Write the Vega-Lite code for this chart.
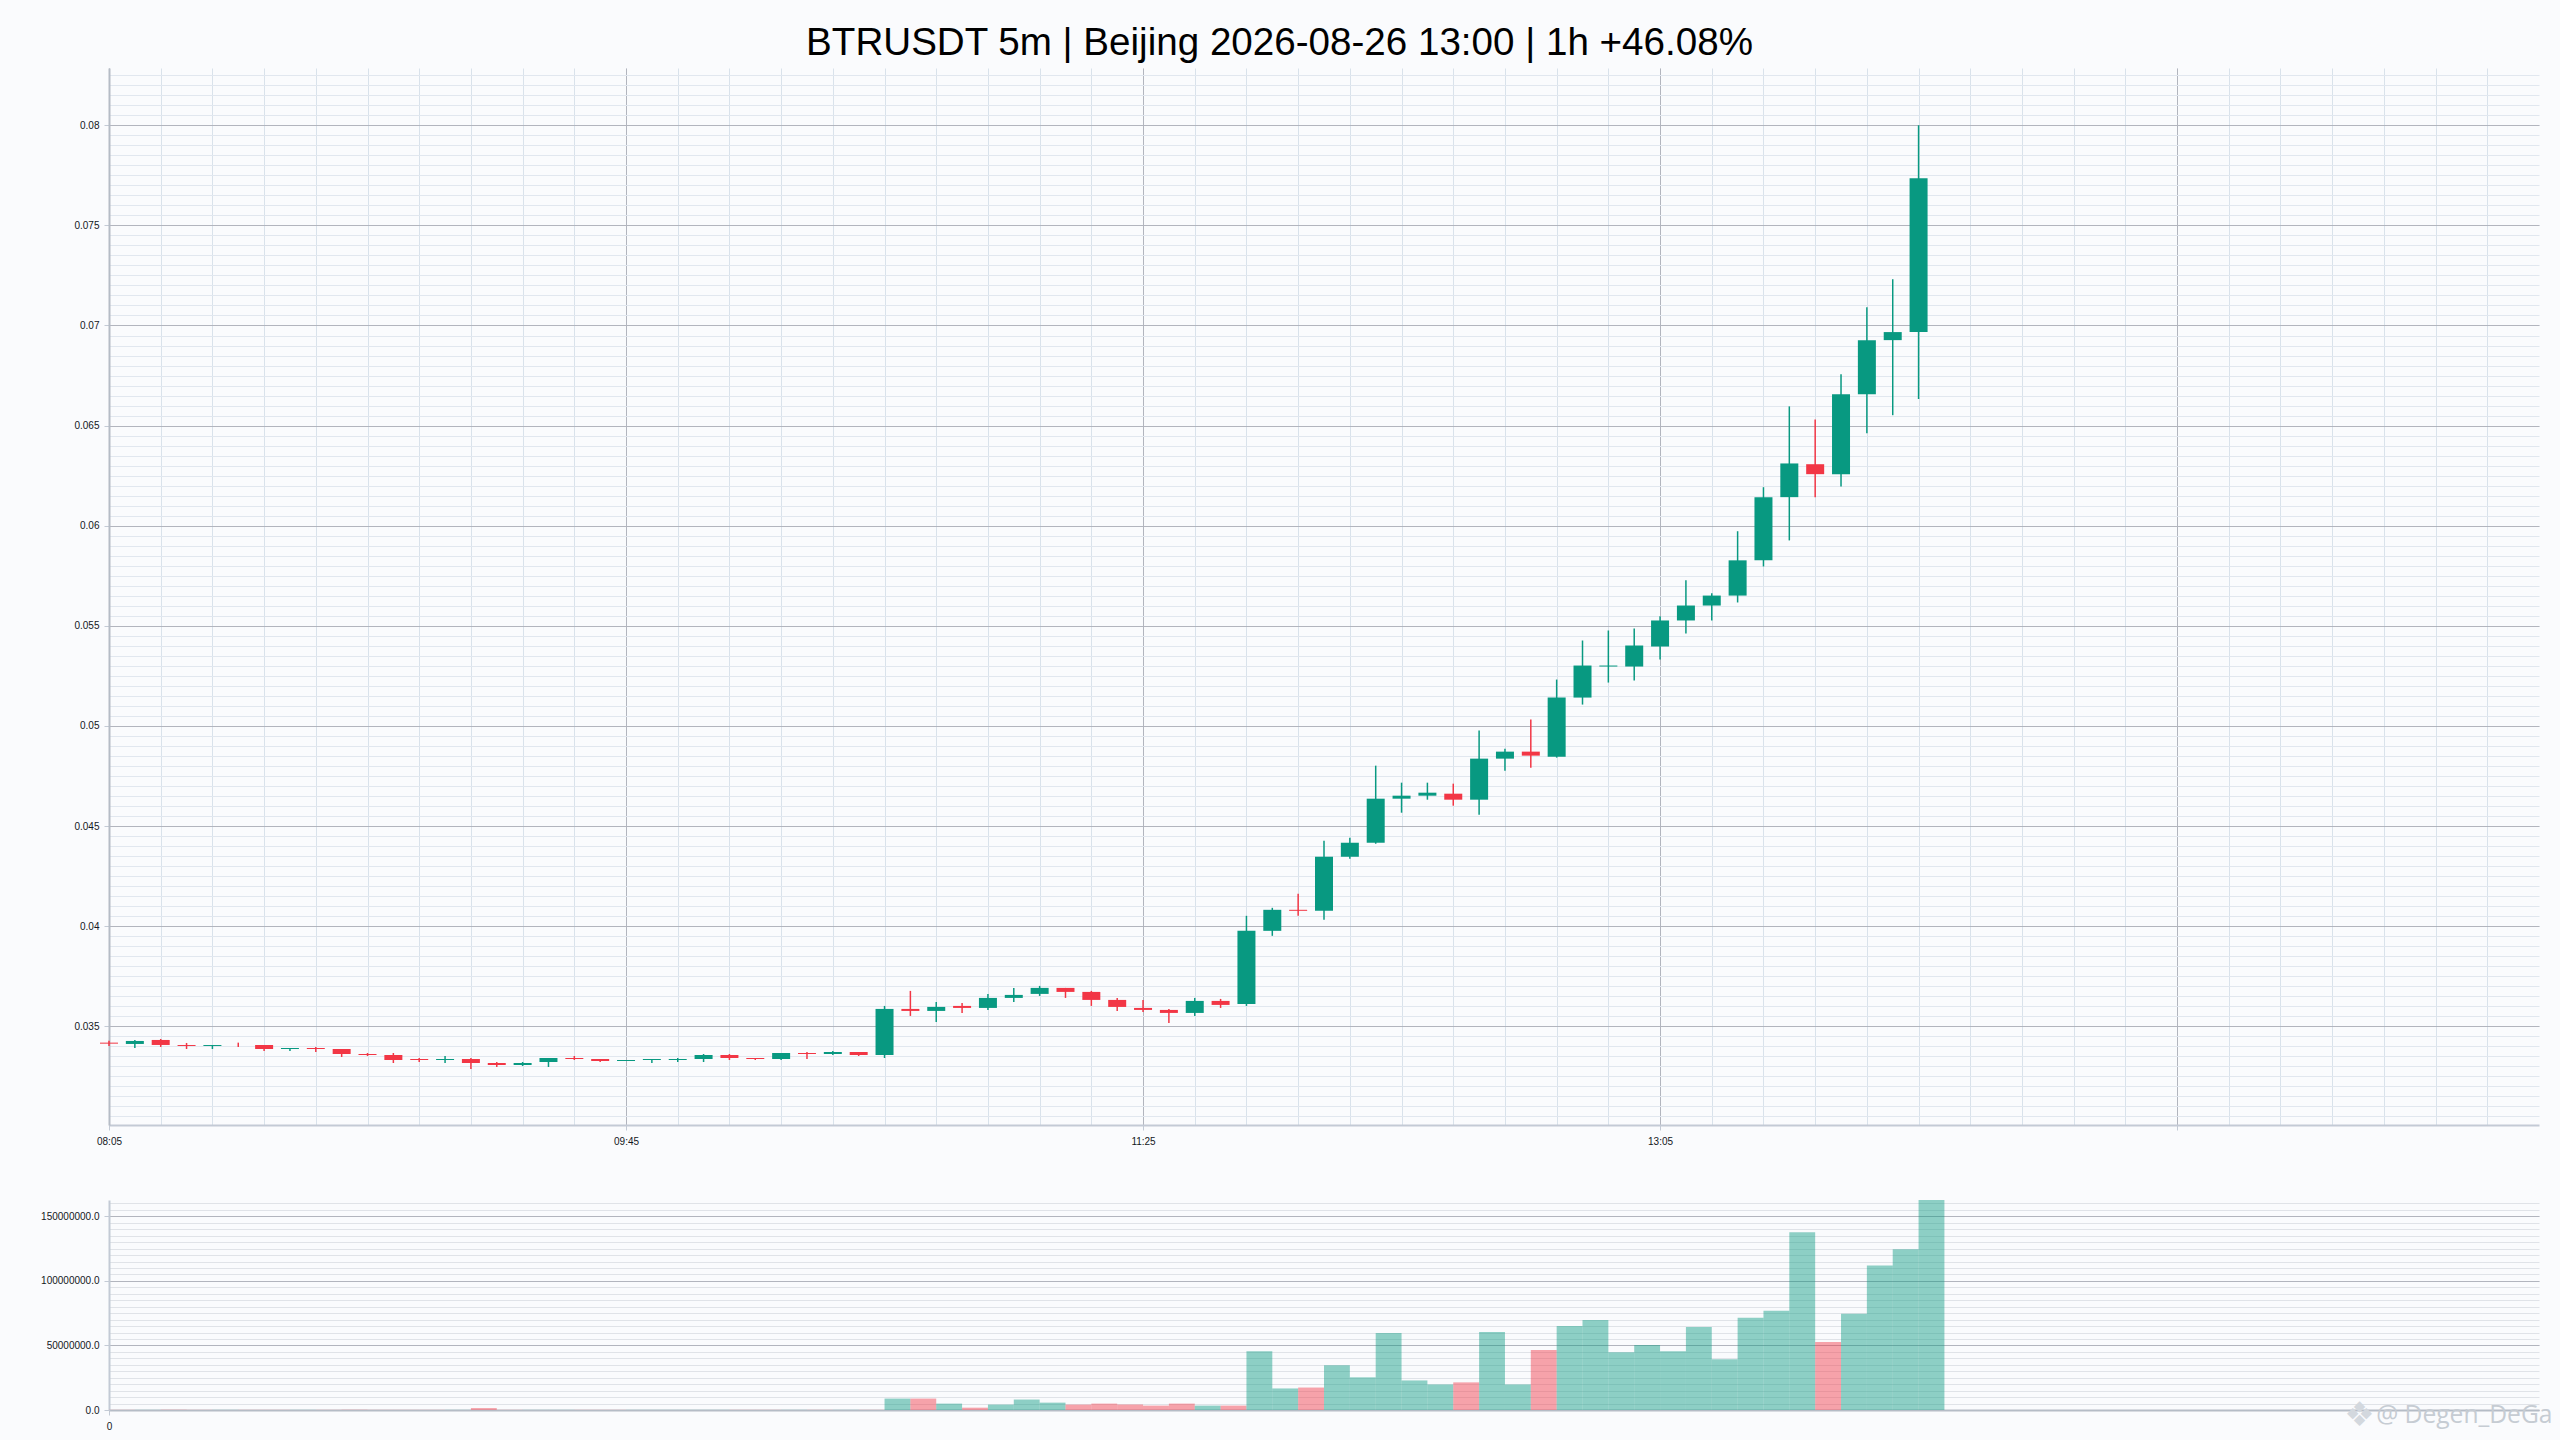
{
  "$schema": "https://vega.github.io/schema/vega-lite/v6.json",
  "background": "#FAFBFD",
  "padding": {"left": 40, "top": 24, "right": 8, "bottom": 8},
  "title": {"text": "BTRUSDT 5m | Beijing 2026-08-26 13:00 | 1h +46.08%", "font": "Liberation Sans", "fontSize": 38.6, "fontWeight": "normal", "color": "#000000", "anchor": "middle", "dx": -17, "offset": 4},
  "config": {"view": {"stroke": null}, "axis": {"labelFont": "Liberation Sans", "labelFontSize": 10, "labelColor": "#131722", "title": null}},
  "datasets": {
    "candles": [
      {"time":"2026-08-26T08:05:00Z","end":"2026-08-26T08:10:00Z","open":0.034183,"high":0.034283,"low":0.034017,"close":0.034133,"volume":100000},
      {"time":"2026-08-26T08:10:00Z","end":"2026-08-26T08:15:00Z","open":0.034117,"high":0.034317,"low":0.033917,"close":0.034267,"volume":100000},
      {"time":"2026-08-26T08:15:00Z","end":"2026-08-26T08:20:00Z","open":0.034317,"high":0.034367,"low":0.033967,"close":0.034067,"volume":100000},
      {"time":"2026-08-26T08:20:00Z","end":"2026-08-26T08:25:00Z","open":0.034067,"high":0.034167,"low":0.033867,"close":0.034017,"volume":100000},
      {"time":"2026-08-26T08:25:00Z","end":"2026-08-26T08:30:00Z","open":0.034017,"high":0.034067,"low":0.033867,"close":0.034067,"volume":100000},
      {"time":"2026-08-26T08:30:00Z","end":"2026-08-26T08:35:00Z","open":0.034034,"high":0.034183,"low":0.033967,"close":0.034033,"volume":100000},
      {"time":"2026-08-26T08:35:00Z","end":"2026-08-26T08:40:00Z","open":0.034067,"high":0.034067,"low":0.033767,"close":0.033867,"volume":100000},
      {"time":"2026-08-26T08:40:00Z","end":"2026-08-26T08:45:00Z","open":0.033867,"high":0.033917,"low":0.033767,"close":0.033917,"volume":100000},
      {"time":"2026-08-26T08:45:00Z","end":"2026-08-26T08:50:00Z","open":0.033917,"high":0.033967,"low":0.033717,"close":0.033867,"volume":100000},
      {"time":"2026-08-26T08:50:00Z","end":"2026-08-26T08:55:00Z","open":0.033867,"high":0.033867,"low":0.033467,"close":0.033617,"volume":100000},
      {"time":"2026-08-26T08:55:00Z","end":"2026-08-26T09:00:00Z","open":0.033617,"high":0.033667,"low":0.033517,"close":0.033567,"volume":100000},
      {"time":"2026-08-26T09:00:00Z","end":"2026-08-26T09:05:00Z","open":0.033567,"high":0.033667,"low":0.033167,"close":0.033317,"volume":100000},
      {"time":"2026-08-26T09:05:00Z","end":"2026-08-26T09:10:00Z","open":0.033367,"high":0.033417,"low":0.033217,"close":0.033317,"volume":100000},
      {"time":"2026-08-26T09:10:00Z","end":"2026-08-26T09:15:00Z","open":0.033317,"high":0.033517,"low":0.033167,"close":0.033367,"volume":100000},
      {"time":"2026-08-26T09:15:00Z","end":"2026-08-26T09:20:00Z","open":0.033367,"high":0.033417,"low":0.032867,"close":0.033167,"volume":1500000},
      {"time":"2026-08-26T09:20:00Z","end":"2026-08-26T09:25:00Z","open":0.033167,"high":0.033217,"low":0.032967,"close":0.033067,"volume":100000},
      {"time":"2026-08-26T09:25:00Z","end":"2026-08-26T09:30:00Z","open":0.033067,"high":0.033217,"low":0.033017,"close":0.033167,"volume":100000},
      {"time":"2026-08-26T09:30:00Z","end":"2026-08-26T09:35:00Z","open":0.033217,"high":0.033417,"low":0.032967,"close":0.033417,"volume":100000},
      {"time":"2026-08-26T09:35:00Z","end":"2026-08-26T09:40:00Z","open":0.033417,"high":0.033517,"low":0.033317,"close":0.033367,"volume":100000},
      {"time":"2026-08-26T09:40:00Z","end":"2026-08-26T09:45:00Z","open":0.033367,"high":0.033367,"low":0.033217,"close":0.033267,"volume":100000},
      {"time":"2026-08-26T09:45:00Z","end":"2026-08-26T09:50:00Z","open":0.033267,"high":0.033317,"low":0.033267,"close":0.033317,"volume":100000},
      {"time":"2026-08-26T09:50:00Z","end":"2026-08-26T09:55:00Z","open":0.033317,"high":0.033367,"low":0.033167,"close":0.033367,"volume":100000},
      {"time":"2026-08-26T09:55:00Z","end":"2026-08-26T10:00:00Z","open":0.033317,"high":0.033417,"low":0.033217,"close":0.033367,"volume":100000},
      {"time":"2026-08-26T10:00:00Z","end":"2026-08-26T10:05:00Z","open":0.033367,"high":0.033617,"low":0.033217,"close":0.033567,"volume":100000},
      {"time":"2026-08-26T10:05:00Z","end":"2026-08-26T10:10:00Z","open":0.033567,"high":0.033617,"low":0.033317,"close":0.033417,"volume":100000},
      {"time":"2026-08-26T10:10:00Z","end":"2026-08-26T10:15:00Z","open":0.033417,"high":0.033417,"low":0.033317,"close":0.033367,"volume":100000},
      {"time":"2026-08-26T10:15:00Z","end":"2026-08-26T10:20:00Z","open":0.033367,"high":0.033667,"low":0.033317,"close":0.033667,"volume":100000},
      {"time":"2026-08-26T10:20:00Z","end":"2026-08-26T10:25:00Z","open":0.033667,"high":0.033717,"low":0.033367,"close":0.033617,"volume":100000},
      {"time":"2026-08-26T10:25:00Z","end":"2026-08-26T10:30:00Z","open":0.033617,"high":0.033767,"low":0.033567,"close":0.033717,"volume":100000},
      {"time":"2026-08-26T10:30:00Z","end":"2026-08-26T10:35:00Z","open":0.033717,"high":0.033717,"low":0.033517,"close":0.033567,"volume":100000},
      {"time":"2026-08-26T10:35:00Z","end":"2026-08-26T10:40:00Z","open":0.033567,"high":0.036017,"low":0.033417,"close":0.035867,"volume":8850000},
      {"time":"2026-08-26T10:40:00Z","end":"2026-08-26T10:45:00Z","open":0.035867,"high":0.036767,"low":0.035517,"close":0.035767,"volume":8850000},
      {"time":"2026-08-26T10:45:00Z","end":"2026-08-26T10:50:00Z","open":0.035767,"high":0.036217,"low":0.035217,"close":0.035967,"volume":4950000},
      {"time":"2026-08-26T10:50:00Z","end":"2026-08-26T10:55:00Z","open":0.036017,"high":0.036167,"low":0.035667,"close":0.035917,"volume":1800000},
      {"time":"2026-08-26T10:55:00Z","end":"2026-08-26T11:00:00Z","open":0.035917,"high":0.036617,"low":0.035817,"close":0.036417,"volume":4200000},
      {"time":"2026-08-26T11:00:00Z","end":"2026-08-26T11:05:00Z","open":0.036417,"high":0.036917,"low":0.036217,"close":0.036567,"volume":8100000},
      {"time":"2026-08-26T11:05:00Z","end":"2026-08-26T11:10:00Z","open":0.036617,"high":0.037017,"low":0.036517,"close":0.036917,"volume":5700000},
      {"time":"2026-08-26T11:10:00Z","end":"2026-08-26T11:15:00Z","open":0.036917,"high":0.036917,"low":0.036417,"close":0.036717,"volume":4200000},
      {"time":"2026-08-26T11:15:00Z","end":"2026-08-26T11:20:00Z","open":0.036717,"high":0.036767,"low":0.036017,"close":0.036317,"volume":4950000},
      {"time":"2026-08-26T11:20:00Z","end":"2026-08-26T11:25:00Z","open":0.036317,"high":0.036417,"low":0.035767,"close":0.035967,"volume":4200000},
      {"time":"2026-08-26T11:25:00Z","end":"2026-08-26T11:30:00Z","open":0.035917,"high":0.036317,"low":0.035717,"close":0.035817,"volume":3400000},
      {"time":"2026-08-26T11:30:00Z","end":"2026-08-26T11:35:00Z","open":0.035817,"high":0.035867,"low":0.035167,"close":0.035667,"volume":4950000},
      {"time":"2026-08-26T11:35:00Z","end":"2026-08-26T11:40:00Z","open":0.035667,"high":0.036417,"low":0.035517,"close":0.036267,"volume":3400000},
      {"time":"2026-08-26T11:40:00Z","end":"2026-08-26T11:45:00Z","open":0.036267,"high":0.036367,"low":0.035917,"close":0.036067,"volume":3400000},
      {"time":"2026-08-26T11:45:00Z","end":"2026-08-26T11:50:00Z","open":0.036117,"high":0.040517,"low":0.036017,"close":0.039767,"volume":45600000},
      {"time":"2026-08-26T11:50:00Z","end":"2026-08-26T11:55:00Z","open":0.039767,"high":0.040917,"low":0.039517,"close":0.040817,"volume":16700000},
      {"time":"2026-08-26T11:55:00Z","end":"2026-08-26T12:00:00Z","open":0.040817,"high":0.041617,"low":0.040517,"close":0.040767,"volume":17400000},
      {"time":"2026-08-26T12:00:00Z","end":"2026-08-26T12:05:00Z","open":0.040767,"high":0.044267,"low":0.040317,"close":0.043467,"volume":34600000},
      {"time":"2026-08-26T12:05:00Z","end":"2026-08-26T12:10:00Z","open":0.043467,"high":0.044417,"low":0.043367,"close":0.044167,"volume":25300000},
      {"time":"2026-08-26T12:10:00Z","end":"2026-08-26T12:15:00Z","open":0.044167,"high":0.048017,"low":0.044117,"close":0.046367,"volume":59600000},
      {"time":"2026-08-26T12:15:00Z","end":"2026-08-26T12:20:00Z","open":0.046367,"high":0.047167,"low":0.045667,"close":0.046517,"volume":22900000},
      {"time":"2026-08-26T12:20:00Z","end":"2026-08-26T12:25:00Z","open":0.046517,"high":0.047167,"low":0.046317,"close":0.046667,"volume":19800000},
      {"time":"2026-08-26T12:25:00Z","end":"2026-08-26T12:30:00Z","open":0.046617,"high":0.047117,"low":0.046017,"close":0.046317,"volume":21400000},
      {"time":"2026-08-26T12:30:00Z","end":"2026-08-26T12:35:00Z","open":0.046317,"high":0.049767,"low":0.045567,"close":0.048367,"volume":60400000},
      {"time":"2026-08-26T12:35:00Z","end":"2026-08-26T12:40:00Z","open":0.048367,"high":0.048867,"low":0.047767,"close":0.048717,"volume":19800000},
      {"time":"2026-08-26T12:40:00Z","end":"2026-08-26T12:45:00Z","open":0.048717,"high":0.050317,"low":0.047917,"close":0.048517,"volume":46400000},
      {"time":"2026-08-26T12:45:00Z","end":"2026-08-26T12:50:00Z","open":0.048467,"high":0.052317,"low":0.048417,"close":0.051417,"volume":65100000},
      {"time":"2026-08-26T12:50:00Z","end":"2026-08-26T12:55:00Z","open":0.051417,"high":0.054267,"low":0.051067,"close":0.053017,"volume":69800000},
      {"time":"2026-08-26T12:55:00Z","end":"2026-08-26T13:00:00Z","open":0.052967,"high":0.054767,"low":0.052167,"close":0.053017,"volume":44800000},
      {"time":"2026-08-26T13:00:00Z","end":"2026-08-26T13:05:00Z","open":0.052967,"high":0.054867,"low":0.052267,"close":0.054017,"volume":50300000},
      {"time":"2026-08-26T13:05:00Z","end":"2026-08-26T13:10:00Z","open":0.053967,"high":0.055478,"low":0.053317,"close":0.055268,"volume":45600000},
      {"time":"2026-08-26T13:10:00Z","end":"2026-08-26T13:15:00Z","open":0.055268,"high":0.057276,"low":0.054617,"close":0.056014,"volume":64300000},
      {"time":"2026-08-26T13:15:00Z","end":"2026-08-26T13:20:00Z","open":0.056014,"high":0.056626,"low":0.055268,"close":0.056511,"volume":39300000},
      {"time":"2026-08-26T13:20:00Z","end":"2026-08-26T13:25:00Z","open":0.056511,"high":0.059725,"low":0.056167,"close":0.058271,"volume":71400000},
      {"time":"2026-08-26T13:25:00Z","end":"2026-08-26T13:30:00Z","open":0.058271,"high":0.061924,"low":0.057965,"close":0.061427,"volume":76800000},
      {"time":"2026-08-26T13:30:00Z","end":"2026-08-26T13:35:00Z","open":0.061427,"high":0.06596,"low":0.059266,"close":0.06311,"volume":137800000},
      {"time":"2026-08-26T13:35:00Z","end":"2026-08-26T13:40:00Z","open":0.063072,"high":0.06531,"low":0.061427,"close":0.062575,"volume":52600000},
      {"time":"2026-08-26T13:40:00Z","end":"2026-08-26T13:45:00Z","open":0.062575,"high":0.067567,"low":0.061963,"close":0.066572,"volume":74500000},
      {"time":"2026-08-26T13:45:00Z","end":"2026-08-26T13:50:00Z","open":0.066572,"high":0.070914,"low":0.064621,"close":0.069269,"volume":112000000},
      {"time":"2026-08-26T13:50:00Z","end":"2026-08-26T13:55:00Z","open":0.069269,"high":0.072311,"low":0.06552,"close":0.069671,"volume":124500000},
      {"time":"2026-08-26T13:55:00Z","end":"2026-08-26T14:00:00Z","open":0.069671,"high":0.08,"low":0.066324,"close":0.07736,"volume":163500000}
    ]
  },
  "bounds": "flush",
  "spacing": 75,
  "vconcat": [
    {
      "width": 2430,
      "height": 1057,
      "data": {"name": "candles"},
      "resolve": {"axis": {"x": "independent", "y": "independent"}},
      "layer": [
        {
          "mark": {"type": "rule", "strokeWidth": 1.5, "clip": false},
          "encoding": {
            "x": {
              "field": "time", "type": "temporal",
              "scale": {"type": "utc", "padding": 0, "domain": ["2026-08-26T08:05:00Z", "2026-08-26T15:55:00Z"]},
              "axis": {
                "orient": "bottom", "labels": false, "ticks": false, "domain": false, "grid": true, "gridColor": "#D9E2EB", "gridWidth": 1,
                "values": [
                  "2026-08-26T08:05:00Z","2026-08-26T08:15:00Z","2026-08-26T08:25:00Z","2026-08-26T08:35:00Z","2026-08-26T08:45:00Z","2026-08-26T08:55:00Z",
                  "2026-08-26T09:05:00Z","2026-08-26T09:15:00Z","2026-08-26T09:25:00Z","2026-08-26T09:35:00Z","2026-08-26T09:45:00Z","2026-08-26T09:55:00Z",
                  "2026-08-26T10:05:00Z","2026-08-26T10:15:00Z","2026-08-26T10:25:00Z","2026-08-26T10:35:00Z","2026-08-26T10:45:00Z","2026-08-26T10:55:00Z",
                  "2026-08-26T11:05:00Z","2026-08-26T11:15:00Z","2026-08-26T11:25:00Z","2026-08-26T11:35:00Z","2026-08-26T11:45:00Z","2026-08-26T11:55:00Z",
                  "2026-08-26T12:05:00Z","2026-08-26T12:15:00Z","2026-08-26T12:25:00Z","2026-08-26T12:35:00Z","2026-08-26T12:45:00Z","2026-08-26T12:55:00Z",
                  "2026-08-26T13:05:00Z","2026-08-26T13:15:00Z","2026-08-26T13:25:00Z","2026-08-26T13:35:00Z","2026-08-26T13:45:00Z","2026-08-26T13:55:00Z",
                  "2026-08-26T14:05:00Z","2026-08-26T14:15:00Z","2026-08-26T14:25:00Z","2026-08-26T14:35:00Z","2026-08-26T14:45:00Z","2026-08-26T14:55:00Z",
                  "2026-08-26T15:05:00Z","2026-08-26T15:15:00Z","2026-08-26T15:25:00Z","2026-08-26T15:35:00Z","2026-08-26T15:45:00Z"
                ]
              }
            },
            "y": {
              "field": "low", "type": "quantitative",
              "scale": {"domain": [0.03007, 0.08286], "nice": false, "zero": false},
              "axis": {"orient": "left", "labels": false, "ticks": false, "domain": false, "grid": true, "gridColor": "#E1E7EF", "gridWidth": 1, "tickCount": 105}
            },
            "y2": {"field": "high"},
            "color": {"condition": {"test": "datum.close >= datum.open", "value": "#089981"}, "value": "#F23645"}
          }
        },
        {
          "mark": {"type": "bar", "width": 18, "clip": false},
          "encoding": {
            "x": {
              "field": "time", "type": "temporal",
              "scale": {"type": "utc", "padding": 0, "domain": ["2026-08-26T08:05:00Z", "2026-08-26T15:55:00Z"]},
              "axis": {
                "orient": "bottom", "format": "%H:%M", "grid": true, "gridColor": "#B2B5BE", "gridWidth": 1, "domainColor": "#C3CAD5", "domainWidth": 2, "tickColor": "#C3CAD5", "tickSize": 5, "labelPadding": 6, "labelFlush": false,
                "values": ["2026-08-26T08:05:00Z", "2026-08-26T09:45:00Z", "2026-08-26T11:25:00Z", "2026-08-26T13:05:00Z", "2026-08-26T14:45:00Z"],
                "labelExpr": "utcFormat(datum.value, '%H:%M') == '14:45' ? '' : utcFormat(datum.value, '%H:%M')"
              }
            },
            "y": {
              "field": "open", "type": "quantitative",
              "scale": {"domain": [0.03007, 0.08286], "nice": false, "zero": false},
              "axis": {
                "orient": "left", "format": "~g", "grid": true, "gridColor": "#B2B5BE", "gridWidth": 1, "domainColor": "#B5BCC6", "domainWidth": 2, "tickColor": "#C3CAD5", "tickSize": 5, "labelPadding": 5,
                "values": [0.035, 0.04, 0.045, 0.05, 0.055, 0.06, 0.065, 0.07, 0.075, 0.08]
              }
            },
            "y2": {"field": "close"},
            "color": {"condition": {"test": "datum.close >= datum.open", "value": "#089981"}, "value": "#F23645"}
          }
        }
      ]
    },
    {
      "width": 2430,
      "height": 210,
      "resolve": {"axis": {"x": "independent", "y": "independent"}},
      "layer": [
        {
          "data": {"name": "candles"},
          "mark": {"type": "rect", "opacity": 0.45, "clip": true},
          "encoding": {
            "x": {
              "field": "time", "type": "temporal",
              "scale": {"type": "utc", "domain": ["2026-08-26T08:05:00Z", "2026-08-26T15:55:00Z"]},
              "axis": {"orient": "bottom", "grid": false, "domainColor": "#B5BCC6", "domainWidth": 2, "tickColor": "#C3CAD5", "tickSize": 5, "labelPadding": 6, "labelFlush": false, "values": ["2026-08-26T08:05:00Z"], "labelExpr": "'0'"}
            },
            "x2": {"field": "end"},
            "y": {
              "field": "volume", "type": "quantitative",
              "scale": {"domain": [0, 162700000], "nice": false},
              "axis": {"orient": "left", "labels": false, "ticks": false, "domain": false, "grid": true, "gridColor": "#E0E3E8", "gridWidth": 1, "tickCount": 33}
            },
            "y2": {"datum": 0},
            "color": {"condition": {"test": "datum.close >= datum.open", "value": "#089981"}, "value": "#F23645"}
          }
        },
        {
          "data": {"name": "candles"},
          "mark": {"type": "rule", "opacity": 0},
          "encoding": {
            "y": {
              "field": "volume", "type": "quantitative",
              "scale": {"domain": [0, 162700000], "nice": false},
              "axis": {"orient": "left", "format": ".1f", "grid": true, "gridColor": "#B2B5BE", "gridWidth": 1, "domainColor": "#C3CAD5", "domainWidth": 2, "tickColor": "#C3CAD5", "tickSize": 5, "labelPadding": 5, "values": [0, 50000000, 100000000, 150000000]}
            }
          }
        },
        {
          "data": {"values": [{"time": "2026-08-26T15:17:20Z", "level": -4500000, "label": "❖"}]},
          "mark": {"type": "text", "font": "DejaVu Sans", "fontSize": 34, "align": "left", "baseline": "middle", "color": "#D3D8DE", "clip": false},
          "encoding": {
            "x": {"field": "time", "type": "temporal", "scale": {"type": "utc", "domain": ["2026-08-26T08:05:00Z", "2026-08-26T15:55:00Z"]}, "axis": null},
            "y": {"field": "level", "type": "quantitative", "scale": {"domain": [0, 162700000], "nice": false}, "axis": null},
            "text": {"field": "label"}
          }
        },
        {
          "data": {"values": [{"time": "2026-08-26T15:23:30Z", "level": -4500000, "label": "@ Degen_DeGa"}]},
          "mark": {"type": "text", "font": "Open Sans", "fontSize": 24.6, "align": "left", "baseline": "middle", "color": "#C6CCD3", "clip": false},
          "encoding": {
            "x": {"field": "time", "type": "temporal", "scale": {"type": "utc", "domain": ["2026-08-26T08:05:00Z", "2026-08-26T15:55:00Z"]}, "axis": null},
            "y": {"field": "level", "type": "quantitative", "scale": {"domain": [0, 162700000], "nice": false}, "axis": null},
            "text": {"field": "label"}
          }
        }
      ]
    }
  ]
}
